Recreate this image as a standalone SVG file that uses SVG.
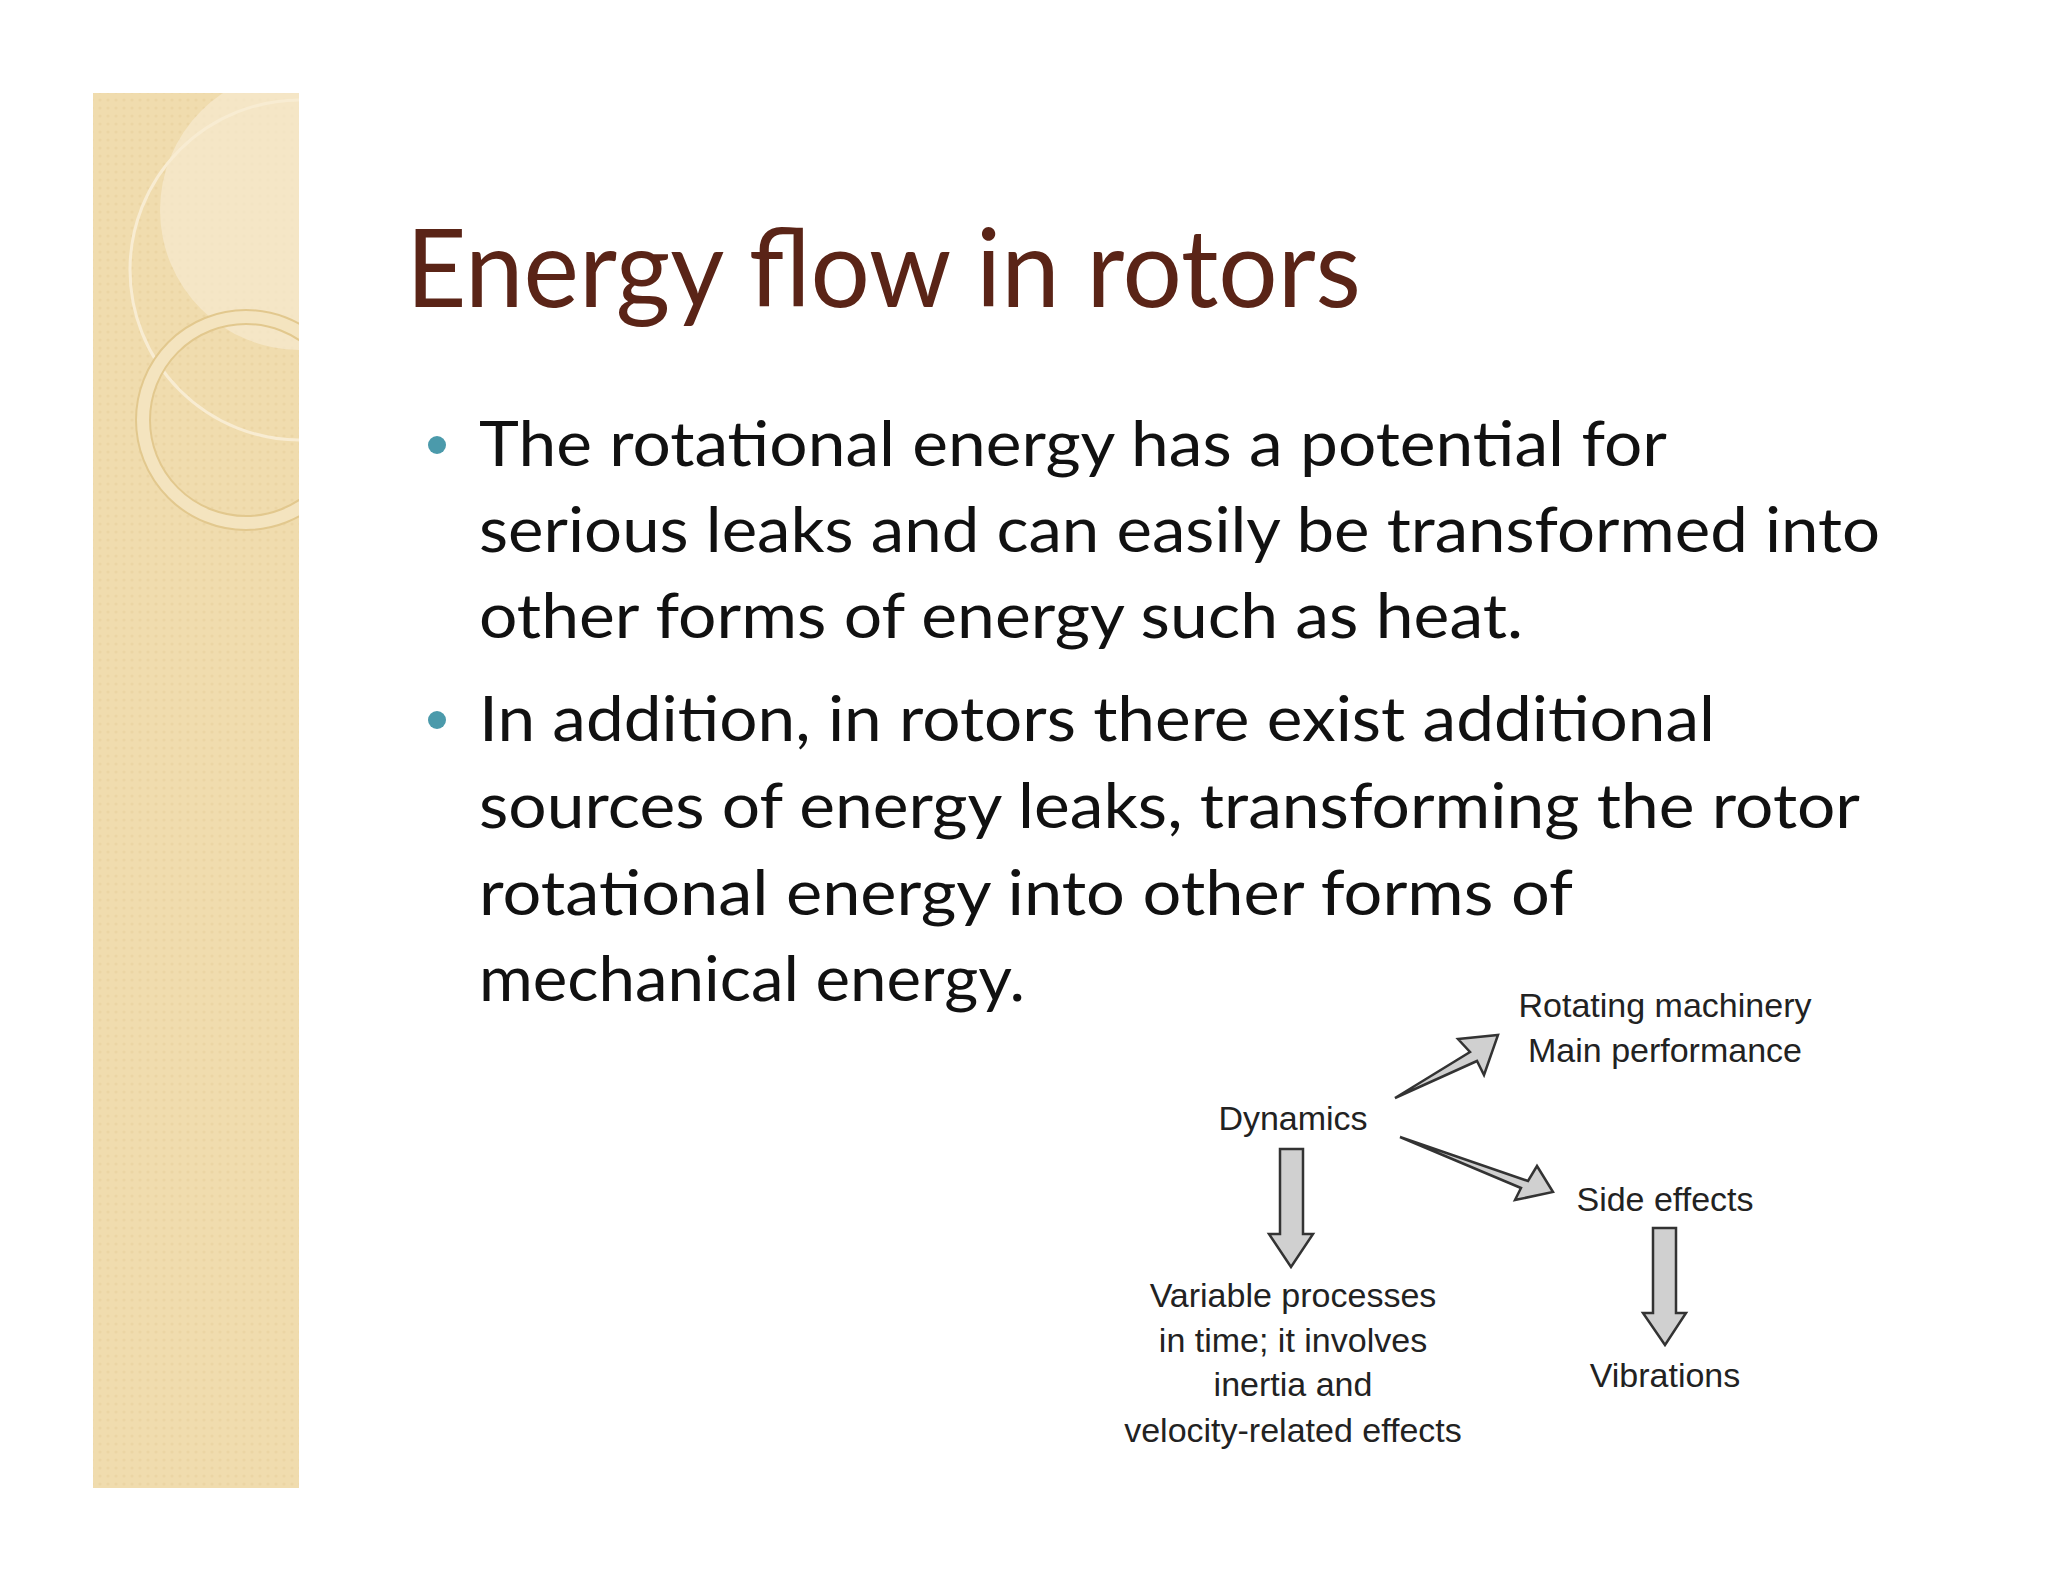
<svg xmlns="http://www.w3.org/2000/svg" width="2048" height="1582" viewBox="0 0 2048 1582">
<defs>
<style>
.t{font-family:"Lato","Open Sans",sans-serif;font-size:62px;fill:#111}
.d{font-family:"Liberation Sans",Arial,sans-serif;font-size:34px;fill:#222;text-anchor:middle}
.a{fill:#d0d0d0;stroke:#333;stroke-width:2.5;stroke-linejoin:miter}
</style>
<clipPath id="sb"><rect x="93" y="93" width="206" height="1395"/></clipPath>
<pattern id="tx" width="8" height="8" patternUnits="userSpaceOnUse"><rect width="8" height="8" fill="#f0dcae"/><circle cx="4" cy="4" r="1.6" fill="#e8d09c" opacity="0.6"/></pattern>
</defs>
<rect width="2048" height="1582" fill="#fff"/>
<g id="sidebar">
<rect x="93" y="93" width="206" height="1395" fill="url(#tx)"/>
<g clip-path="url(#sb)" fill="none">
<circle cx="300" cy="210" r="140" fill="#f6ead0" opacity="0.7"/>
<circle cx="300" cy="270" r="170" stroke="#f8ecd2" stroke-width="3"/>
<circle cx="246" cy="420" r="103" stroke="#f4e4bf" stroke-width="14"/>
<circle cx="246" cy="420" r="110" stroke="#e2c88e" stroke-width="2"/>
<circle cx="246" cy="420" r="96" stroke="#e2c88e" stroke-width="2"/>
</g>
</g>
<g id="title"><text x="406" y="307" font-family="Lato,'Open Sans',sans-serif" font-size="108" fill="#5a2417" textLength="955" lengthAdjust="spacingAndGlyphs">Energy flow in rotors</text></g>
<g id="bullets">
<circle cx="437" cy="445" r="9" fill="#4b9aab"/>
<circle cx="437" cy="720" r="9" fill="#4b9aab"/>
<text class="t" x="479" y="466" textLength="1188" lengthAdjust="spacingAndGlyphs">The rotational energy has a potential for</text>
<text class="t" x="479" y="552" textLength="1401" lengthAdjust="spacingAndGlyphs">serious leaks and can easily be transformed into</text>
<text class="t" x="479" y="638" textLength="1044" lengthAdjust="spacingAndGlyphs">other forms of energy such as heat.</text>
<text class="t" x="479" y="741" textLength="1236" lengthAdjust="spacingAndGlyphs">In addition, in rotors there exist additional</text>
<text class="t" x="479" y="828" textLength="1381" lengthAdjust="spacingAndGlyphs">sources of energy leaks, transforming the rotor</text>
<text class="t" x="479" y="915" textLength="1094" lengthAdjust="spacingAndGlyphs">rotational energy into other forms of</text>
<text class="t" x="479" y="1001" textLength="546" lengthAdjust="spacingAndGlyphs">mechanical energy.</text>
</g>
<g id="n-dynamics"><text class="d" x="1293" y="1130">Dynamics</text></g>
<g id="n-rotating"><text class="d" x="1665" y="1017">Rotating machinery</text><text class="d" x="1665" y="1062">Main performance</text></g>
<g id="n-side"><text class="d" x="1665" y="1211">Side effects</text></g>
<g id="n-vib"><text class="d" x="1665" y="1387">Vibrations</text></g>
<g id="n-var"><text class="d" x="1293" y="1307">Variable processes</text><text class="d" x="1293" y="1352">in time; it involves</text><text class="d" x="1293" y="1396">inertia and</text><text class="d" x="1293" y="1442">velocity-related effects</text></g>
<g id="connectors">
<polygon class="a" points="1280,1149 1303,1149 1303,1234 1313,1234 1291,1267 1269,1234 1280,1234"/>
<polygon class="a" points="1653,1228 1676,1228 1676,1313 1686,1313 1665,1345 1643,1313 1653,1313"/>
<polygon class="a" points="1395,1098 1470,1052 1458,1039 1498,1035 1484,1075 1477,1061"/>
<polygon class="a" points="1400,1137 1528,1181 1537,1166 1553,1192 1515,1200 1521,1188"/>
</g>
</svg>
